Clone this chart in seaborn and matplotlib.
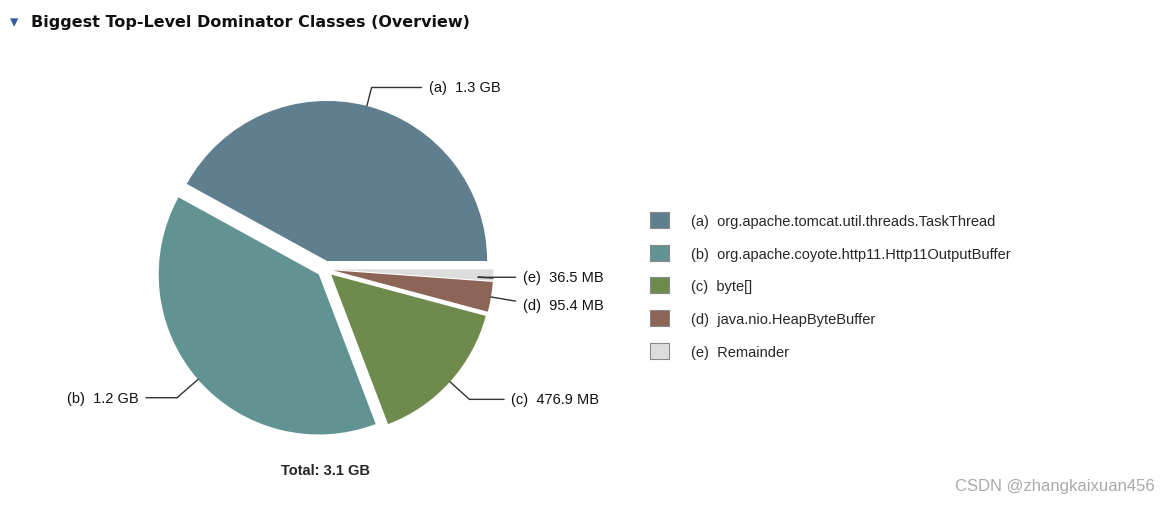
import matplotlib
matplotlib.use("Agg")
import matplotlib.pyplot as plt
import seaborn as sns
import numpy as np
from matplotlib.patches import Patch

sns.set_theme(style="white")
plt.rcParams['font.family'] = ['Liberation Sans', 'DejaVu Sans']

keys = ["(a)", "(b)", "(c)", "(d)", "(e)"]
names = ["org.apache.tomcat.util.threads.TaskThread",
         "org.apache.coyote.http11.Http11OutputBuffer",
         "byte[]", "java.nio.HeapByteBuffer", "Remainder"]
values_mb = [1331, 1229, 476.9, 95.4, 36.5]
value_labels = ["1.3 GB", "1.2 GB", "476.9 MB", "95.4 MB", "36.5 MB"]
colors = ["#5f7f8f", "#629393", "#6e8b4d", "#8c6556", "#dddddd"]
palette = sns.color_palette(colors)

fig = plt.figure(figsize=(11.7, 5.06), dpi=100)
ax = fig.add_axes([125/1170, 36/506, 400/1170, 400/506])
explode = [0.05] * 5
wedges, _ = ax.pie(values_mb, colors=palette, startangle=0, counterclock=True,
                   explode=explode, radius=0.97, wedgeprops=dict(linewidth=0))
ax.set_xlim(-1.212, 1.212)
ax.set_ylim(-1.212, 1.212)
ax.set_aspect('equal')

# label positions (text anchor) in axes data units
text_pos = [(0.63, 1.10), (-1.13, -0.78), (1.13, -0.79), (1.20, -0.22), (1.20, -0.05)]
for i, w in enumerate(wedges):
    ang = (w.theta1 + w.theta2) / 2
    if i == 4:
        ang = w.theta1 + 1
    r = w.r
    cx, cy = w.center
    x = cx + r * np.cos(np.radians(ang))
    y = cy + r * np.sin(np.radians(ang))
    tx, ty = text_pos[i]
    ha = "right" if tx < 0 else "left"
    ax.annotate(f"{keys[i]}  {value_labels[i]}", xy=(x, y), xytext=(tx, ty),
                ha=ha, va="center", fontsize=10.5, color="#111111",
                annotation_clip=False,
                arrowprops=dict(arrowstyle="-", color="#333333", lw=1,
                                shrinkA=3, shrinkB=0,
                                connectionstyle="angle,angleA=0,angleB=%f" % ang))

ax.text(0, -1.22, "Total: 3.1 GB", ha="center", va="center", fontsize=10.5,
        fontweight="bold")

handles = [Patch(facecolor=c, edgecolor="#888888", lw=0.8) for c in colors]
labels = [f"{k}  {n}" for k, n in zip(keys, names)]
fig.legend(handles, labels, loc="upper left", bbox_to_anchor=(637/1170, 1-200/506),
           frameon=False, fontsize=10.5, handlelength=1.3, handleheight=1.3,
           labelspacing=1.15, handletextpad=1.5)

fig.text(10/1170, 1-23/506, "\u25BE", color="#2f5f9f", fontsize=12, va="center")
fig.text(31/1170, 1-23/506, "Biggest Top-Level Dominator Classes (Overview)",
         fontsize=11.5, fontweight="bold", va="center", color="#111111",
         family="DejaVu Sans")
fig.text(1155/1170, 1-487/506, "CSDN @zhangkaixuan456", ha="right", va="center",
         fontsize=12, color="#aaaaaa")

fig.savefig("out.png", dpi=100)
